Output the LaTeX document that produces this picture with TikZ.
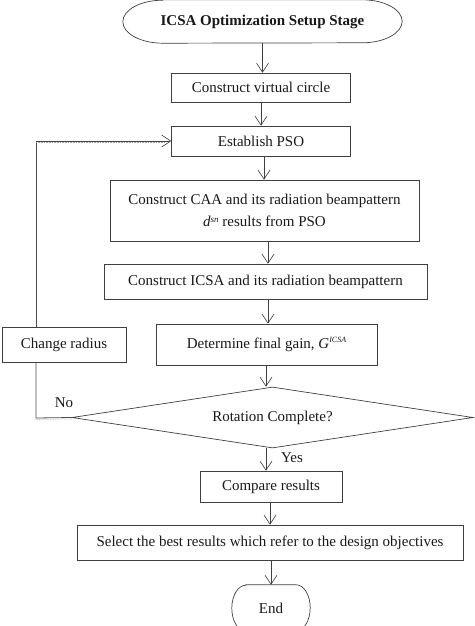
\documentclass[tikz,border=0pt]{standalone}
\usepackage{fontspec}
\setmainfont{Liberation Serif}
\usetikzlibrary{arrows.meta,shapes.geometric}
\begin{document}
\begin{tikzpicture}[x=1pt,y=1pt,
  every node/.style={font=\fontsize{15}{22}\selectfont, text=black!90},
  box/.style={draw=black!75, line width=0.7pt, inner sep=0pt, align=center},
  term/.style={inner sep=0pt, align=center},
  termline/.style={draw=black!75, line width=0.7pt},
  arr/.style={draw=black!75, line width=0.6pt, -{Straight Barb[length=9pt,width=12pt,line width=0.6pt]}},
  fb/.style={draw=black!70, line width=0.8pt},
  fbd/.style={draw=black!35, line width=0.6pt, densely dotted}]
\useasboundingbox (0,0) rectangle (474,-626);
\node[term, minimum width=279pt, minimum height=43pt, font=\fontsize{15}{18}\selectfont\bfseries] (start) at (262.5,-21.5) {ICSA Optimization Setup Stage};
\draw[termline] ([xshift=40pt]start.north west) -- ([xshift=-40pt]start.north east)
  arc[start angle=90, end angle=-90, x radius=40pt, y radius=21.5pt]
  -- ([xshift=40pt]start.south west)
  arc[start angle=270, end angle=90, x radius=40pt, y radius=21.5pt] -- cycle;
\node[box, minimum width=179pt, minimum height=29pt] (vc) at (261,-87.5) {Construct virtual circle};
\node[box, minimum width=179pt, minimum height=30pt] (pso) at (261,-141) {Establish PSO};
\node[box, minimum width=309pt, minimum height=61pt] (caa) at (264.5,-210.5) {Construct CAA and its radiation beampattern\\\textit{d}\raisebox{4.5pt}{\fontsize{9}{9}\selectfont\textit{sn}} results from PSO};
\node[box, minimum width=323pt, minimum height=35pt] (icsa) at (265.5,-281.5) {Construct ICSA and its radiation beampattern};
\node[box, minimum width=221pt, minimum height=41pt] (gain) at (266.5,-344.5) {Determine final gain, \textit{G}\raisebox{6pt}{\fontsize{8}{8}\selectfont\textit{ICSA}}};
\node[box, minimum width=124pt, minimum height=35pt] (cr) at (64,-344.5) {Change radius};
\node[box, diamond, aspect=6.57, minimum width=401pt, minimum height=61pt] (rot) at (272.5,-417.5) {Rotation Complete?};
\node[box, minimum width=142pt, minimum height=31pt] (cmp) at (271,-486.5) {Compare results};
\node[box, minimum width=386pt, minimum height=35pt] (sel) at (270,-542.5) {Select the best results which refer to the design objectives};
\node[term, minimum width=78pt, minimum height=46pt] (end) at (271,-608) {End};
\draw[termline] ([xshift=14pt]end.north west) -- ([xshift=-14pt]end.north east)
  arc[start angle=90, end angle=-90, x radius=14pt, y radius=23pt]
  -- ([xshift=14pt]end.south west)
  arc[start angle=270, end angle=90, x radius=14pt, y radius=23pt] -- cycle;
\node (no) at (64,-403) {No};
\node (yes) at (292,-458) {Yes};
\coordinate (c1) at (36,-418);
\coordinate (c2) at (36,-141);
\draw[arr] (262.5,0 |- start.south) -- (262.5,0 |- vc.north);
\draw[arr] (vc.south) -- (vc.south |- pso.north);
\draw[arr] (264,0 |- pso.south) -- (264,0 |- caa.north);
\draw[arr] (268,0 |- caa.south) -- (268,0 |- icsa.north);
\draw[arr] (268,0 |- icsa.south) -- (268,0 |- gain.north);
\draw[arr] (266,0 |- gain.south) -- (266,0 |- rot.north);
\draw[arr] (266,0 |- rot.south) -- (266,0 |- cmp.north);
\draw[arr] (270,0 |- cmp.south) -- (270,0 |- sel.north);
\draw[arr] (271,0 |- sel.south) -- (271,0 |- end.north);
\draw[fb] (rot.west) -- (c1) -- (c1 |- cr.south);
\draw[fbd] ([yshift=-1.5pt]rot.west) -- ([yshift=-1.5pt]c1);
\draw[fb] (c1 |- cr.north) -- (c2);
\draw[fb, arr] (c2) -- (pso.west);
\draw[fbd] ([yshift=-1.5pt]c2) -- ([yshift=-1.5pt,xshift=-6pt]pso.west);
\end{tikzpicture}
\end{document}
